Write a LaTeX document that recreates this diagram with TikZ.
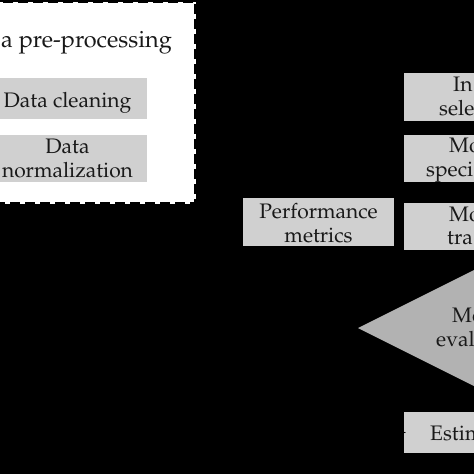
\documentclass[tikz,border=0pt]{standalone}
\usepackage[T1]{fontenc}
\usepackage{mathpazo}
\usetikzlibrary{arrows.meta}
\definecolor{flBox}{RGB}{208,208,208}
\definecolor{flTri}{RGB}{178,178,178}
\definecolor{flText}{RGB}{25,25,25}

\begin{document}
\begin{tikzpicture}[x=1pt,y=-1pt,
    box/.style={fill=flBox, inner sep=0pt},
    txt/.style={inner sep=0pt, text=flText, font=\fontsize{21}{24}\selectfont},
    panel/.style={draw=black, fill=white, line width=3pt, dash pattern=on 10pt off 5pt, inner sep=0pt}]
  \useasboundingbox (0,0) rectangle (474,474);
  \clip (0,0) rectangle (474,474);
  \fill[black] (0,0) rectangle (474,474);

  % pre-processing panel
  \node[panel, minimum width=215.5pt, minimum height=202pt] (prep) at (87.75,102.5) {};
  \node[txt, anchor=base west, font=\fontsize{23.5}{28}\selectfont] (preptitle) at (1,47) {a pre-processing};
  \node[box, minimum width=159pt, minimum height=41pt] (clean) at (67.5,98.5) {};
  \node[txt, anchor=base] (cleantxt) at (67.5,107) {Data cleaning};
  \node[box, minimum width=159pt, minimum height=47pt] (norm) at (67.5,158.5) {};
  \node[txt, anchor=base] (normtxta) at (67.5,153.5) {Data};
  \node[txt, anchor=base] (normtxtb) at (67.5,177.5) {normalization};

  % performance metrics
  \node[box, minimum width=151pt, minimum height=48pt] (perf) at (318.5,222) {};
  \node[txt, anchor=base] (perftxta) at (318.5,218.5) {Performance};
  \node[txt, anchor=base] (perftxtb) at (318.5,242.5) {metrics};

  % right column
  \node[box, minimum width=116pt, minimum height=48pt] (input) at (462,97) {};
  \node[txt, anchor=base west] (inputtxta) at (453,91) {In};
  \node[txt, anchor=base west] (inputtxtb) at (439,115) {sele};
  \node[box, minimum width=116pt, minimum height=47pt] (spec) at (462,158.5) {};
  \node[txt, anchor=base west] (spectxta) at (449,152.5) {Mo};
  \node[txt, anchor=base west] (spectxtb) at (426,176) {speci};
  \node[box, minimum width=116pt, minimum height=47pt] (train) at (462,226.5) {};
  \node[txt, anchor=base west] (traintxta) at (449,221) {Mo};
  \node[txt, anchor=base west] (traintxtb) at (447,244.5) {tra};

  % evaluation triangle
  \coordinate (evaltip) at (358,328);
  \fill[flTri] (evaltip) -- (520,247) -- (520,409) -- cycle;
  \node[txt, anchor=base west] (evaltxta) at (452,322) {Mo};
  \node[txt, anchor=base west] (evaltxtb) at (436,346) {eval};

  % estimation
  \node[box, minimum width=116pt, minimum height=41pt] (estim) at (462,432.5) {};
  \node[txt, anchor=base west] (estimtxt) at (430,440) {Estim};
  \coordinate (estimin) at (380,432.5);
  \draw[-{Stealth[length=5pt]}, black, shorten >=-2pt] (estimin) -- (estim.west);
\end{tikzpicture}
\end{document}
